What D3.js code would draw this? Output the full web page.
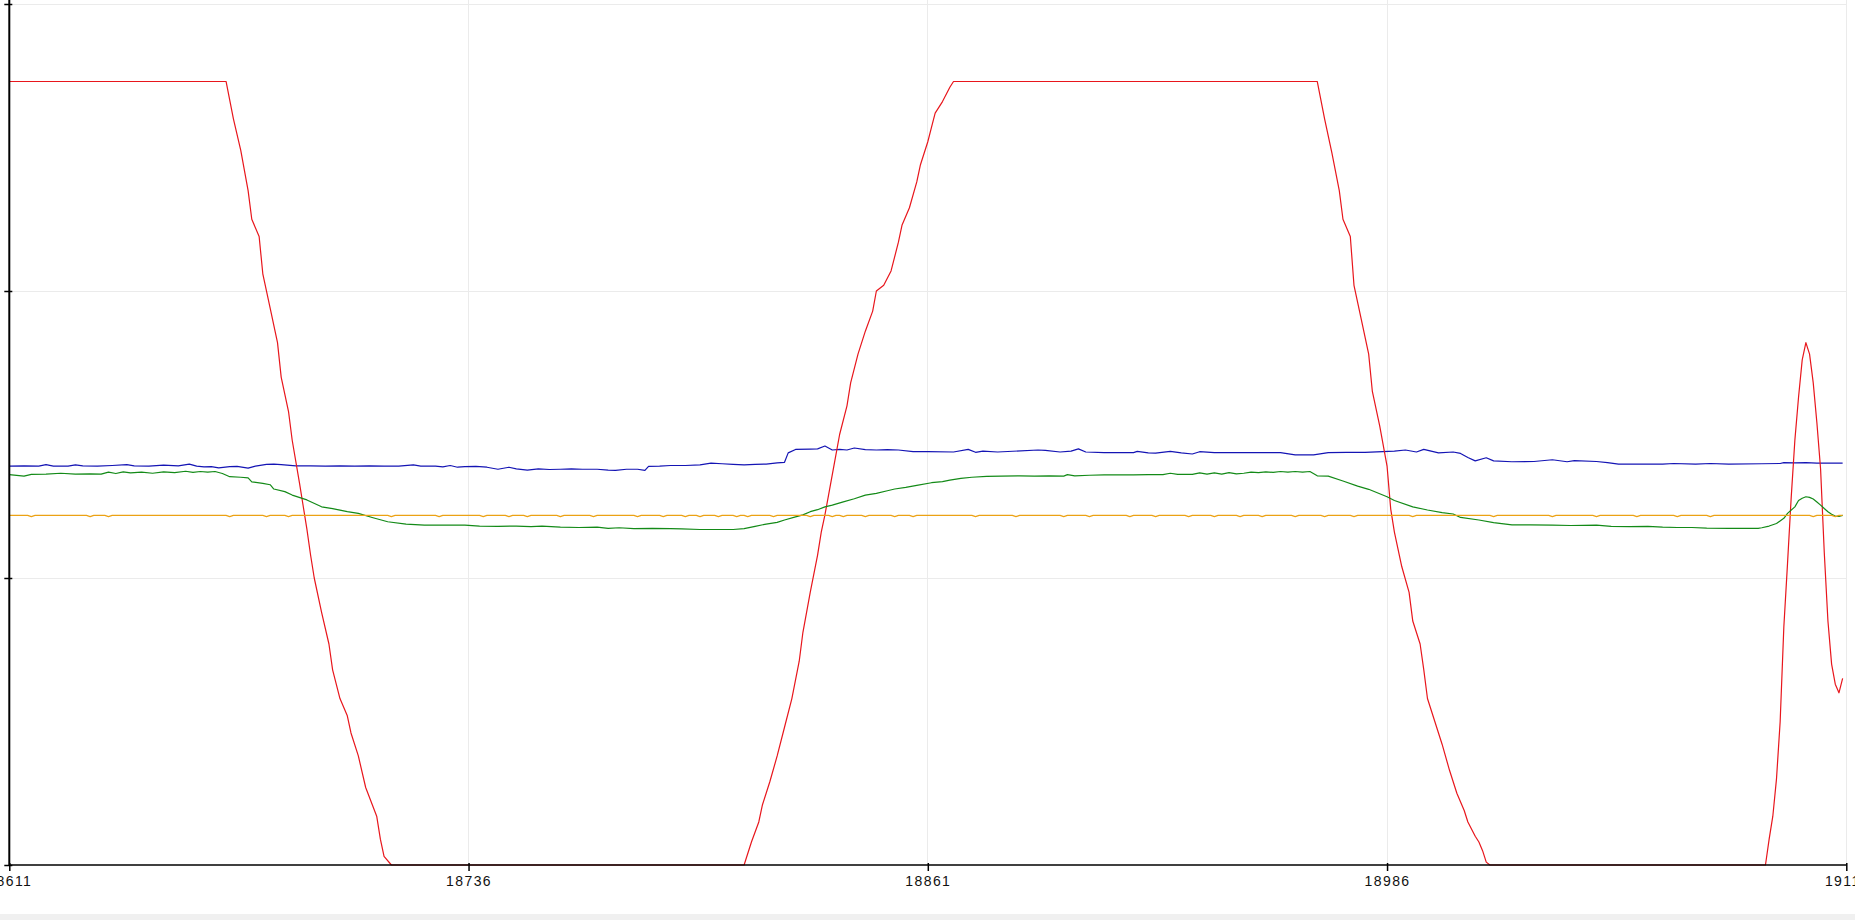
<!DOCTYPE html>
<html>
<head>
<meta charset="utf-8">
<script src="https://cdn.jsdelivr.net/npm/d3@7"></script>
<style>
  html, body { margin: 0; padding: 0; background: #ffffff; overflow: hidden; }
  svg { display: block; }
  .xaxis .tick text { font-family: "Liberation Sans", Arial, sans-serif; font-size: 14px; letter-spacing: 1.4px; fill: #111; }
</style>
</head>
<body>
<svg id="chart" width="1855" height="920"></svg>
<script>
// ---- data (sample offset from xStart, value) ----
const xStart = 18611;
const xEnd = 19111;
const xTicks = [18611, 18736, 18861, 18986, 19111];
const yTicks = [0, 100, 200, 300];
const yDomain = [0, 300];

const seriesNames = ["blue", "red", "green", "orange"];
const seriesColors = ["#1414b4", "#e8161c", "#138a17", "#eca214"];

const blue = [[0,139.0],[4,139.1],[8,139.0],[10,139.5],[12,139.0],[16,139.0],[18,139.4],[20,139.1],[24,139.0],[28,139.2],[32,139.5],[34,139.1],[38,139.0],[42,139.3],[46,139.1],[49,139.7],[51,139.0],[53,138.7],[55,138.8],[57,138.4],[60,138.8],[62,138.9],[65,138.3],[67,139.0],[70,139.6],[72,139.7],[74,139.5],[78,139.1],[82,139.1],[86,139.0],[90,139.1],[94,139.0],[98,139.1],[102,139.0],[106,139.0],[110,139.4],[112,139.0],[116,139.0],[118,138.7],[120,139.2],[122,138.6],[124,138.8],
  [127,138.9],[130,138.6],[133,137.9],[136,138.6],[138,138.0],[141,137.6],[144,138.0],[147,137.8],[150,137.9],[153,138.0],[156,137.9],[160,137.9],[163,137.6],[165,137.5],[168,137.9],[171,137.9],[173,137.5],[174,138.9],[177,139.0],[180,139.2],[184,139.2],[188,139.4],[191,140.0],[194,139.8],[197,139.6],[200,139.4],[203,139.6],[206,139.7],[209,140.1],[211,140.3],[212,143.6],[214,144.8],[218,144.9],[220,145.0],[222,146.0],[224,144.6],[226,144.8],[228,144.6],[230,145.3],[233,144.7],[236,144.6],[239,144.7],[242,144.6],[246,144.0],[250,144.0],
  [257,143.9],[261,144.8],[263,143.8],[265,144.2],[269,143.9],[280,144.6],[282,144.5],[286,143.9],[289,144.2],[291,145.0],[293,143.9],[298,143.7],[306,143.7],[307,144.1],[310,143.6],[312,143.5],[316,144.1],[319,143.6],[322,143.2],[324,144.0],[328,143.7],[346,143.7],[350,142.9],[355,142.9],[359,143.7],[364,143.8],[369,143.8],[377,144.2],
  [380,144.6],[383,143.9],[385,144.8],[389,143.6],[393,143.9],[395,143.4],[397,142.0],[399,140.8],[402,141.9],[404,140.8],[409,140.5],[415,140.6],[420,141.2],[424,140.5],[426,140.9],[432,140.6],[435,140.2],[438,139.7],[450,139.7],[453,139.9],[459,139.7],[463,139.9],[468,139.7],[477,139.8],[482,139.9],[483,140.2],[486,140.1],[489,140.2],[492,140.0],[499,140.0]];

const red = [[0,273],[59,273],[61,260],[63,249],[65,235],[66,225],[68,219],[69,206],[71,194],[73,182],[74,170],[76,158],[77,148],[79,133],[80,125],[81,117],[82,108],[83,100],[85,88],[87,77],[88,68],[90,58],[92,52],[93,46],[95,38],[97,27],[100,17],[101,9],[102,3],[104,0],
  [200,0],[202,8],[204,15],[205,21],[207,29],[209,38],[211,48],[213,58],[215,71],[216,81],[218,95],[220,108],[221,116],[222,122],[223,129],[225,143],[226,150],[228,160],[229,168],[231,178],[233,186],[235,193],[236,200],[238,202],[240,207],[242,217],[243,223],[245,229],[247,238],[248,244],[250,252],[251,257],[252,262],[254,266],[256,271],[257,273],
  [356,273],[358,260],[360,248],[362,235],[363,225],[365,219],[366,202],[368,190],[370,178],[371,165],[373,153],[375,139],[376,124],[377,116],[379,104],[381,95],[382,85],[384,77],[385,68],[386,58],[388,50],[390,42],[392,33],[394,25],[396,19],[397,15],[399,10],[400,8],[401,5],[402,1],[403,0],
  [478,0],[479,9],[480,17],[481,30],[482,50],[483,83],[484,105],[485,128],[486,148],[487,163],[488,176],[489,182],[490,178],[491,168],[492,154],[493,138],[494,109],[495,85],[496,70],[497,63],[498,60],[499,65]];

const green = [[0,136.0],[4,135.5],[6,136.1],[10,136.2],[14,136.5],[18,136.2],[22,136.3],[25,136.2],[27,136.9],[29,136.4],[31,137.0],[33,136.6],[36,136.9],[39,136.5],[42,137.0],[45,136.7],[48,137.2],[50,136.8],[52,137.1],[54,136.9],[56,137.1],[58,136.4],[60,135.3],[63,135.1],[65,134.9],[66,133.5],[69,133.0],[71,132.5],[72,131.0],[75,130.1],[77,128.9],[81,127.2],[85,124.8],[88,124.2],[92,123.1],[95,122.5],[99,121.0],[103,119.6],[108,118.8],[113,118.4],[118,118.4],[124,118.4],
  [128,118.1],[133,118.0],[138,118.1],[142,117.9],[145,118.1],[150,117.7],[155,117.6],[160,117.7],[163,117.3],[166,117.5],[170,117.2],[175,117.3],[180,117.2],[183,117.1],[188,116.9],[193,116.9],[197,116.9],[200,117.2],[203,118.0],[206,118.8],[209,119.4],[211,120.2],[214,121.3],[216,122.0],[218,123.1],[220,123.8],[222,124.8],[224,125.4],[227,126.5],[230,127.6],[233,128.9],[236,129.5],[239,130.4],[241,131.0],[244,131.6],[247,132.3],[251,133.2],
  [254,133.6],[256,134.1],[259,134.7],[262,135.1],[266,135.4],[270,135.5],[275,135.6],[279,135.5],[283,135.6],[287,135.5],[288,136.0],[290,135.6],[294,135.8],[298,135.9],[302,135.9],[306,135.9],[310,136.0],[314,136.0],[316,136.5],[318,136.1],[322,136.1],[324,136.6],[326,136.2],[328,136.6],[330,136.2],[332,136.7],[334,136.3],[336,136.5],[338,136.9],[340,136.7],[342,137.0],[344,136.8],[346,137.1],[348,136.9],[350,137.1],[352,136.9],[354,137.1],[356,135.6],[359,135.5],[363,133.8],[367,132.0],[370,130.9],[375,128.3],[377,127.0],
  [382,124.8],[386,123.7],[390,122.8],[393,122.3],[395,121.1],[400,120.2],[404,119.3],[409,118.5],[414,118.5],[420,118.4],[425,118.3],[432,118.4],[436,118.0],[441,117.9],[446,118.0],[450,117.7],[454,117.6],[458,117.6],[462,117.4],[468,117.3],[472,117.3],[476,117.3],[477,117.5],[479,118.1],[481,119.0],[483,120.8],[484,122.5],[486,124.8],[487,127.0],[488,127.8],[489,128.3],[490,128.1],[491,127.5],[492,126.5],[493,125.4],[494,124.2],[495,123.1],[496,122.2],[497,121.6],[498,121.5],[499,121.8]];

const orange = [[0,121.8],[5,121.8],[6,121.4],[7,121.8],[21,121.8],[22,121.4],[23,121.8],[26,121.8],[27,121.4],[28,121.8],[59,121.8],[60,121.4],[61,121.8],[69,121.8],[70,121.4],[71,121.8],[75,121.8],[76,121.4],[77,121.8],[103,121.8],[104,121.4],[105,121.8],[116,121.8],[117,121.4],[118,121.8],
  [128,121.8],[129,121.4],[130,121.8],[135,121.8],[136,121.4],[137,121.8],[140,121.8],[141,121.4],[142,121.8],[149,121.8],[150,121.4],[151,121.8],[158,121.8],[159,121.4],[160,121.8],[170,121.8],[171,121.4],[172,121.8],[177,121.8],[178,121.4],[179,121.8],[183,121.8],[184,121.4],[185,121.8],[187,121.8],[188,121.4],[189,121.8],[192,121.8],[193,121.4],[194,121.8],[197,121.8],[198,121.4],[199,121.8],[200,121.8],[201,121.4],[202,121.8],[207,121.8],[208,121.4],[209,121.8],[217,121.8],[218,121.4],[219,121.8],[223,121.8],[224,121.4],[225,121.8],[226,121.8],[227,121.4],[228,121.8],[232,121.8],[233,121.4],[234,121.8],[240,121.8],[241,121.4],[242,121.8],[245,121.8],[246,121.4],[247,121.8],
  [262,121.8],[263,121.4],[264,121.8],[273,121.8],[274,121.4],[275,121.8],[286,121.8],[287,121.4],[288,121.8],[293,121.8],[294,121.4],[295,121.8],[304,121.8],[305,121.4],[306,121.8],[311,121.8],[312,121.4],[313,121.8],[320,121.8],[321,121.4],[322,121.8],[327,121.8],[328,121.4],[329,121.8],[334,121.8],[335,121.4],[336,121.8],[340,121.8],[341,121.4],[342,121.8],[349,121.8],[350,121.4],[351,121.8],[357,121.8],[358,121.4],[359,121.8],[365,121.8],[366,121.4],[367,121.8],
  [381,121.8],[382,121.4],[383,121.8],[403,121.8],[404,121.4],[405,121.8],[419,121.8],[420,121.4],[421,121.8],[431,121.8],[432,121.4],[433,121.8],[442,121.8],[443,121.4],[444,121.8],[453,121.8],[454,121.4],[455,121.8],[462,121.8],[463,121.4],[464,121.8],[490,121.8],[491,121.4],[492,121.8],[496,121.8],[497,121.4],[498,121.8],[499,121.8]];

const allSeries = [blue, red, green, orange];

// ---- drawing ----
const W = 1855, H = 920;
const svg = d3.select("#chart");

const x = d3.scaleLinear().domain([xStart, xEnd]).range([9.3, 1846.3]);
const y = d3.scaleLinear().domain(yDomain).range([865, 4]);

// bottom control strip
svg.append("rect").attr("x", 0).attr("y", 914).attr("width", W).attr("height", 6).attr("fill", "#f0f0f0");

// grid
const grid = svg.append("g").attr("stroke", "#ebebeb").attr("stroke-width", 1).attr("shape-rendering", "crispEdges");
grid.selectAll("line.h").data(yTicks.slice(1)).join("line")
  .attr("x1", x(xStart)).attr("x2", x(xEnd))
  .attr("y1", d => y(d)).attr("y2", d => y(d));
grid.selectAll("line.v").data(xTicks.slice(1)).join("line")
  .attr("x1", d => x(d)).attr("x2", d => x(d))
  .attr("y1", 0).attr("y2", y(0));

// series lines
const line = d3.line().x(d => x(xStart + d[0])).y(d => y(d[1]));
svg.append("g").selectAll("path").data(allSeries).join("path")
  .attr("d", line)
  .attr("fill", "none")
  .attr("stroke", (d, i) => seriesColors[i])
  .attr("stroke-width", 1.2)
  .attr("stroke-linejoin", "round");

// axes
const xAxis = d3.axisBottom(x).tickValues(xTicks).tickFormat(d3.format("d")).tickSizeInner(6).tickSizeOuter(0).tickPadding(5);
const gx = svg.append("g").attr("class", "xaxis").attr("transform", `translate(0,${y(0)})`).call(xAxis);
gx.select(".domain").remove();
gx.selectAll(".tick line").attr("y1", -2).attr("stroke", "#000").attr("stroke-width", 1.5);

// y axis: tick marks only (its labels sit outside the window in the reference)
const yAxis = d3.axisLeft(y).tickValues(yTicks).tickFormat("").tickSizeInner(5).tickSizeOuter(0);
const gy = svg.append("g").attr("transform", `translate(${x(xStart)},0)`).call(yAxis);
gy.select(".domain").remove();
gy.selectAll(".tick line").attr("x1", 3).attr("stroke", "#000").attr("stroke-width", 1.5);

svg.append("line").attr("x1", x(xStart)).attr("x2", x(xEnd)).attr("y1", y(0)).attr("y2", y(0))
  .attr("stroke", "#000").attr("stroke-width", 1.5);
svg.append("line").attr("x1", x(xStart)).attr("x2", x(xStart)).attr("y1", 0).attr("y2", y(0) + 1)
  .attr("stroke", "#000").attr("stroke-width", 2);
</script>
</body>
</html>
